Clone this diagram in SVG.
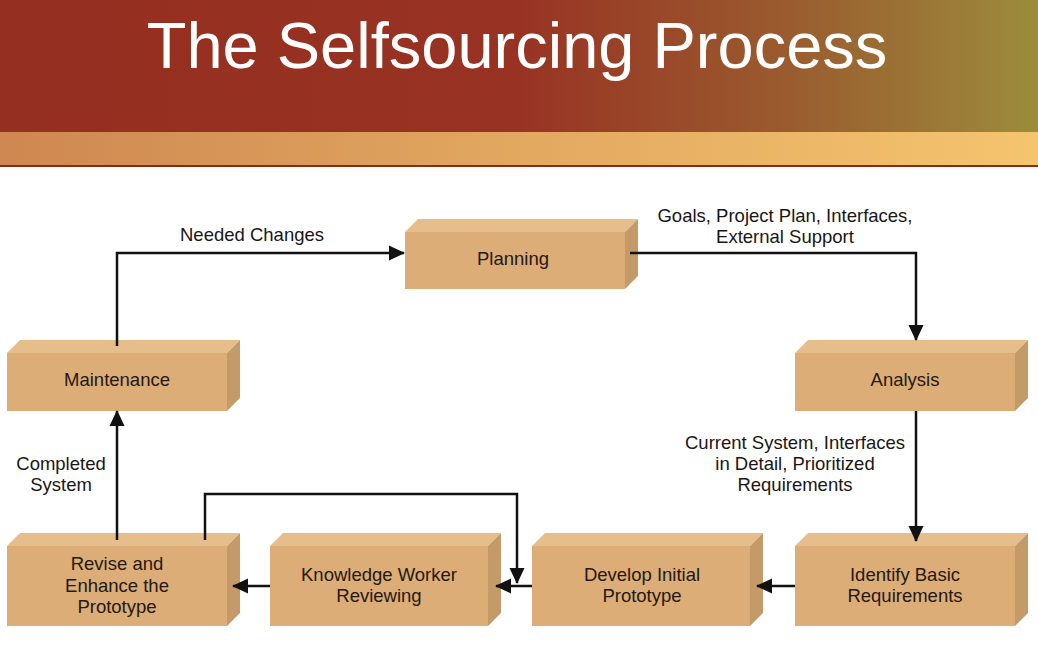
<svg xmlns="http://www.w3.org/2000/svg" width="1038" height="658" viewBox="0 0 1038 658">
<defs>
<linearGradient id="hdr" x1="0" y1="0" x2="1" y2="0">
<stop offset="0" stop-color="#942F21"/>
<stop offset="0.5" stop-color="#983323"/>
<stop offset="0.75" stop-color="#9A5A2E"/>
<stop offset="1" stop-color="#9C8C3C"/>
</linearGradient>
<linearGradient id="band" x1="0" y1="0" x2="1" y2="0">
<stop offset="0" stop-color="#CE8750"/>
<stop offset="0.5" stop-color="#E2A860"/>
<stop offset="1" stop-color="#F5C46E"/>
</linearGradient>
<marker id="ah" viewBox="0 0 16 16" refX="15" refY="8" markerWidth="16" markerHeight="16" markerUnits="userSpaceOnUse" orient="auto">
<path d="M0,0.5 L16,8 L0,15.5 z" fill="#111"/>
</marker>
</defs>
<style>
.front{fill:#DDAD78;}
.top{fill:#E6BE8C;}
.side{fill:#C49A68;}
.nt{font-family:"Liberation Sans",Arial,sans-serif;font-size:18.5px;fill:#241810;text-anchor:middle;}
.lb{font-family:"Liberation Sans",Arial,sans-serif;font-size:18.5px;fill:#1A1614;text-anchor:middle;}
.cn{fill:none;stroke:#111;stroke-width:2.5;}
.arr{marker-end:url(#ah);}
</style>
<rect x="0" y="0" width="1038" height="658" fill="#FFFFFF"/>
<g id="header">
<rect x="0" y="0" width="1038" height="132" fill="url(#hdr)"/>
<rect x="0" y="132" width="1038" height="33" fill="url(#band)"/>
<rect x="0" y="165" width="1038" height="2" fill="#8A2A12"/>
<text x="517" y="68" font-family="Liberation Sans,Arial,sans-serif" font-size="65" fill="#FFFFFF" text-anchor="middle">The Selfsourcing Process</text>
</g>
<g id="planning">
<polygon class="top" points="405,232 418,219 638,219 625,232"/>
<polygon class="side" points="625,232 638,219 638,276 625,289"/>
<rect class="front" x="405" y="232" width="220" height="57"/>
<text class="nt" x="513" y="265">Planning</text>
</g>
<g id="maintenance">
<polygon class="top" points="7,353 20,340 240,340 227,353"/>
<polygon class="side" points="227,353 240,340 240,398 227,411"/>
<rect class="front" x="7" y="353" width="220" height="58"/>
<text class="nt" x="117" y="386">Maintenance</text>
</g>
<g id="analysis">
<polygon class="top" points="795,353 808,340 1028,340 1015,353"/>
<polygon class="side" points="1015,353 1028,340 1028,398 1015,411"/>
<rect class="front" x="795" y="353" width="220" height="58"/>
<text class="nt" x="905" y="386">Analysis</text>
</g>
<g id="revise">
<polygon class="top" points="7,546 20,533 240,533 227,546"/>
<polygon class="side" points="227,546 240,533 240,613 227,626"/>
<rect class="front" x="7" y="546" width="220" height="80"/>
<text class="nt" x="117" y="570">Revise and</text>
<text class="nt" x="117" y="592">Enhance the</text>
<text class="nt" x="117" y="613">Prototype</text>
</g>
<g id="knowledge">
<polygon class="top" points="270,546 283,533 501,533 488,546"/>
<polygon class="side" points="488,546 501,533 501,613 488,626"/>
<rect class="front" x="270" y="546" width="218" height="80"/>
<text class="nt" x="379" y="581">Knowledge Worker</text>
<text class="nt" x="379" y="602">Reviewing</text>
</g>
<g id="develop">
<polygon class="top" points="532,546 545,533 763,533 750,546"/>
<polygon class="side" points="750,546 763,533 763,613 750,626"/>
<rect class="front" x="532" y="546" width="218" height="80"/>
<text class="nt" x="642" y="581">Develop Initial</text>
<text class="nt" x="642" y="602">Prototype</text>
</g>
<g id="identify">
<polygon class="top" points="795,546 808,533 1028,533 1015,546"/>
<polygon class="side" points="1015,546 1028,533 1028,613 1015,626"/>
<rect class="front" x="795" y="546" width="220" height="80"/>
<text class="nt" x="905" y="581">Identify Basic</text>
<text class="nt" x="905" y="602">Requirements</text>
</g>
<g id="connectors">
<path class="cn arr" d="M117,346 V253 H404"/>
<path class="cn arr" d="M630,253 H916 V340"/>
<path class="cn arr" d="M916,411 V541"/>
<path class="cn arr" d="M795,586 H757"/>
<path class="cn arr" d="M532,586 H496"/>
<path class="cn arr" d="M270,586 H233"/>
<path class="cn arr" d="M205,540 V494 H517 V583"/>
<path class="cn arr" d="M117,540 V411"/>
<text class="lb" x="252" y="241">Needed Changes</text>
<text class="lb" x="785" y="222">Goals, Project Plan, Interfaces,</text>
<text class="lb" x="785" y="243">External Support</text>
<text class="lb" x="795" y="449">Current System, Interfaces</text>
<text class="lb" x="795" y="470">in Detail, Prioritized</text>
<text class="lb" x="795" y="491">Requirements</text>
<text class="lb" x="61" y="470">Completed</text>
<text class="lb" x="61" y="491">System</text>
</g>
</svg>
